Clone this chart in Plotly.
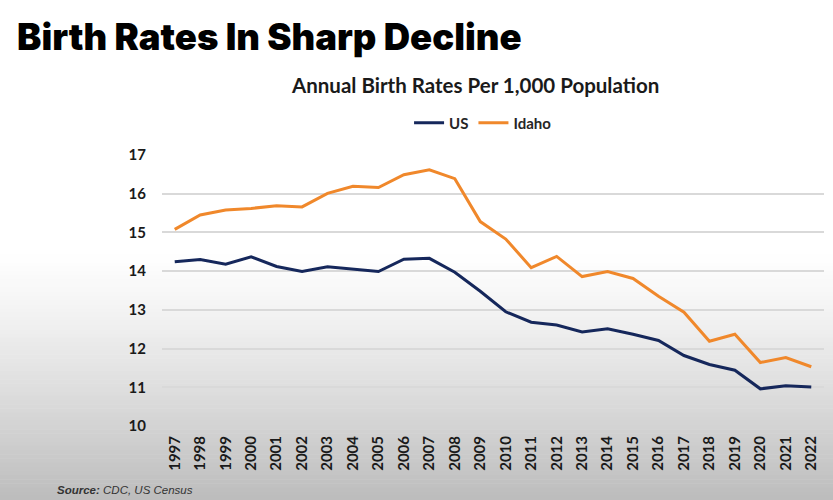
import plotly.graph_objects as go

years = [str(y) for y in range(1997, 2023)]
us = [14.24, 14.30, 14.18, 14.37, 14.12, 13.99, 14.11, 14.05, 13.99, 14.31, 14.33, 13.97,
      13.48, 12.95, 12.68, 12.61, 12.43, 12.51, 12.37, 12.21, 11.82, 11.59, 11.44, 10.96,
      11.04, 11.01]
idaho = [15.08, 15.45, 15.58, 15.62, 15.69, 15.66, 16.01, 16.19, 16.16, 16.49, 16.62, 16.39,
         15.28, 14.83, 14.09, 14.38, 13.86, 13.99, 13.81, 13.35, 12.94, 12.19, 12.37, 11.64,
         11.77, 11.53]
y_ticks = [10, 11, 12, 13, 14, 15, 16, 17]

fig = go.Figure()
fig.add_trace(go.Scatter(x=years, y=us, mode="lines", name="US",
                         line=dict(color="#15275b", width=3)))
fig.add_trace(go.Scatter(x=years, y=idaho, mode="lines", name="Idaho",
                         line=dict(color="#f0882b", width=3)))

# background gradient (white top -> gray bottom)
shapes = []
n = 60
top_px, bot_px = 250, 500
for i in range(n):
    y0 = top_px + (bot_px - top_px) * i / n
    y1 = top_px + (bot_px - top_px) * (i + 1) / n + 0.5
    t = (i + 0.5) / n
    v = int(round(255 - (255 - 188) * t ** 1.2))
    shapes.append(dict(type="rect", xref="paper", yref="paper", layer="below",
                       x0=-1, x1=2,
                       y0=(426 - y1) / 271, y1=(426 - y0) / 271,
                       fillcolor=f"rgb({v},{v},{v})", line=dict(width=0)))

fig.update_layout(
    width=833, height=500,
    margin=dict(l=162, r=9, t=155, b=74),
    paper_bgcolor="white", plot_bgcolor="rgba(0,0,0,0)",
    shapes=shapes,
    showlegend=True,
    legend=dict(orientation="h", x=0.485, y=1.118, xanchor="center", yanchor="middle",
                font=dict(family="Lato", size=15, color="#262626", weight="bold"),
                bgcolor="rgba(0,0,0,0)", itemwidth=30, tracegroupgap=0),
    xaxis=dict(type="category", range=[-0.5, len(years) - 0.5], tickangle=-90,
               showgrid=False, showline=False, ticks="", ticklabelstandoff=6,
               tickfont=dict(family="Lato", size=15, color="#1a1a1a", weight="bold")),
    yaxis=dict(range=[10, 17], tickvals=y_ticks, showgrid=True, gridcolor="#d9d9d9",
               gridwidth=1.5, zeroline=False, showline=False, ticks="",
               tickfont=dict(family="Lato", size=15, color="#1a1a1a", weight="bold"),
               ticklabelstandoff=15),
    annotations=[
        dict(text="Birth Rates In Sharp Decline", xref="paper", yref="paper",
             x=(15 - 162) / 662, y=(426 - 37) / 271, xanchor="left", yanchor="middle",
             showarrow=False, font=dict(family="Inter", size=36.5, color="black", weight=900)),
        dict(text="Annual Birth Rates Per 1,000 Population", xref="paper", yref="paper",
             x=(475 - 162) / 662, y=(426 - 85) / 271, xanchor="center", yanchor="middle",
             showarrow=False, font=dict(family="Lato", size=20.5, color="#1a1a1a", weight="bold")),
        dict(text="<b><i>Source:</i></b><i> CDC, US Census</i>", xref="paper", yref="paper",
             x=(55 - 162) / 662, y=(426 - 490) / 271, xanchor="left", yanchor="middle",
             showarrow=False, font=dict(family="Liberation Sans", size=11.5, color="#333333")),
    ],
)

fig.write_html("out.html")
